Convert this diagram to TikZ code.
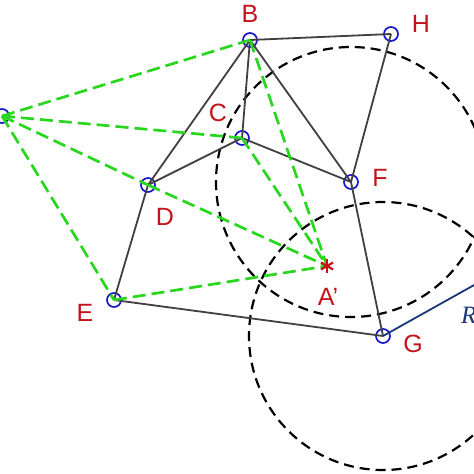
\documentclass[tikz,border=0pt]{standalone}
\usepackage{fontspec}
\setmainfont{Liberation Sans}
\newfontfamily\rfont{Liberation Serif}
\usetikzlibrary{calc}
\definecolor{ptblue}{RGB}{25,25,205}
\definecolor{lblred}{RGB}{195,20,25}
\definecolor{grn}{RGB}{40,215,30}
\definecolor{rblue}{RGB}{25,55,120}

\begin{document}
\begin{tikzpicture}[x=1pt, y=-1pt,
    pnt/.style={circle, draw=ptblue, line width=1.7pt, inner sep=0pt, minimum size=14pt},
    lbl/.style={text=lblred, font=\fontsize{25}{28}\selectfont, inner sep=0pt},
    bar/.style={line width=1.8pt, black!75},
    gline/.style={line width=2.7pt, grn, dash pattern=on 13pt off 6pt},
    circ/.style={line width=2.2pt, black, dash pattern=on 10pt off 6pt}]

    \useasboundingbox (0,0) rectangle (474,474);
    \clip (0,0) rectangle (474,474);

    % Nodes
    \node[pnt] (P) at (2,116) {};
    \node[pnt] (B) at (250,40) {};
    \node[pnt] (H) at (391,34) {};
    \node[pnt] (C) at (242,138) {};
    \node[pnt] (F) at (351,182) {};
    \node[pnt] (D) at (148,185) {};
    \node[pnt] (E) at (114,300) {};
    \node[pnt] (G) at (383,336) {};
    \coordinate (A) at (327,266);
    \coordinate (Rend) at (501,270);

    % Labels
    \node[lbl] (lB) at (250,14) {B};
    \node[lbl] (lH) at (421,24) {H};
    \node[lbl] (lC) at (218,113) {C};
    \node[lbl] (lF) at (380,178) {F};
    \node[lbl] (lD) at (165,217) {D};
    \node[lbl] (lA) at (328,297) {A'};
    \node[lbl] (lE) at (85,313) {E};
    \node[lbl] (lG) at (413,344) {G};
    \node[text=rblue, font=\rfont\itshape\fontsize{25}{28}\selectfont, inner sep=0pt, anchor=west] (lR) at (461,315) {R};

    % Dashed circles
    \draw[circ] (F.center) circle (135);
    \draw[circ] (G.center) circle (134);

    % Bars
    \draw[bar] (B.center) -- (H.center);
    \draw[bar] (B.center) -- (C.center);
    \draw[bar] (B.center) -- (D.center);
    \draw[bar] (B.center) -- (F.center);
    \draw[bar] (H.center) -- (F.center);
    \draw[bar] (C.center) -- (D.center);
    \draw[bar] (C.center) -- (F.center);
    \draw[bar] (D.center) -- (E.center);
    \draw[bar] (E.center) -- (G.center);
    \draw[bar] (F.center) -- (G.center);
    \draw[line width=1.8pt, rblue] (G.center) -- (Rend);

    % Green dashed lines
    \draw[gline] (P.center) -- (B.center);
    \draw[gline] (P.center) -- (C.center);
    \draw[gline] (P.center) -- (D.center);
    \draw[gline] (P.center) -- (E.center);
    \draw[gline] (B.center) -- (A);
    \draw[gline] (C.center) -- (A);
    \draw[gline] (D.center) -- (A);
    \draw[gline] (E.center) -- (A);

    % Star at A'
    \foreach \a in {30,90,150}
        \draw[lblred, line width=2.2pt] ($(A)+(\a:7)$) -- ($(A)+(\a+180:7)$);

\end{tikzpicture}
\end{document}
